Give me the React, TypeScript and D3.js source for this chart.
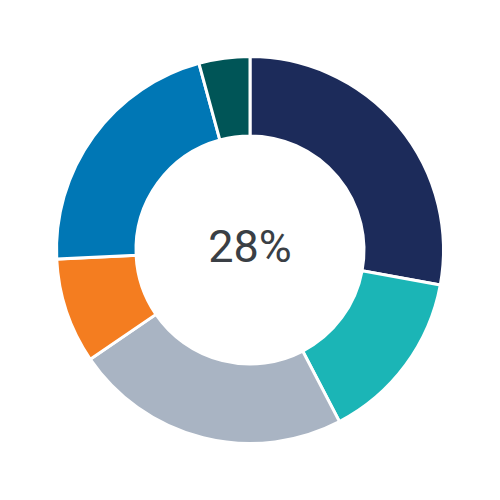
import React from "react";
import * as d3 from "d3";

const categories = ["A", "B", "C", "D", "E", "F"];
const values = [27.9, 14.45, 23.1, 8.8, 21.5, 4.25];
const colors = ["#1c2b5a", "#1bb5b6", "#a9b4c3", "#f47d20", "#0077b5", "#005557"];
const centerLabel = "28%";

export default function App() {
  const width = 500;
  const height = 500;
  const cx = 250;
  const cy = 250;
  const outer = 193.5;
  const inner = 114;
  const pie = d3.pie<number>().sort(null).value((d) => d);
  const arcs = pie(values);
  const arc = d3.arc<d3.PieArcDatum<number>>().innerRadius(inner).outerRadius(outer);
  return (
    <svg
      width={width}
      height={height}
      style={{ position: "absolute", left: 0, top: 0, background: "#fff" }}
    >
      <g transform={`translate(${cx},${cy})`}>
        {arcs.map((a, i) => (
          <path
            key={categories[i]}
            d={arc(a) || ""}
            fill={colors[i]}
            stroke="#fff"
            strokeWidth={3}
          />
        ))}
        <text
          x={0}
          y={12}
          textAnchor="middle"
          fontFamily="Roboto, sans-serif"
          fontSize={45}
          fill="#3a3f45"
        >
          {centerLabel}
        </text>
      </g>
    </svg>
  );
}
